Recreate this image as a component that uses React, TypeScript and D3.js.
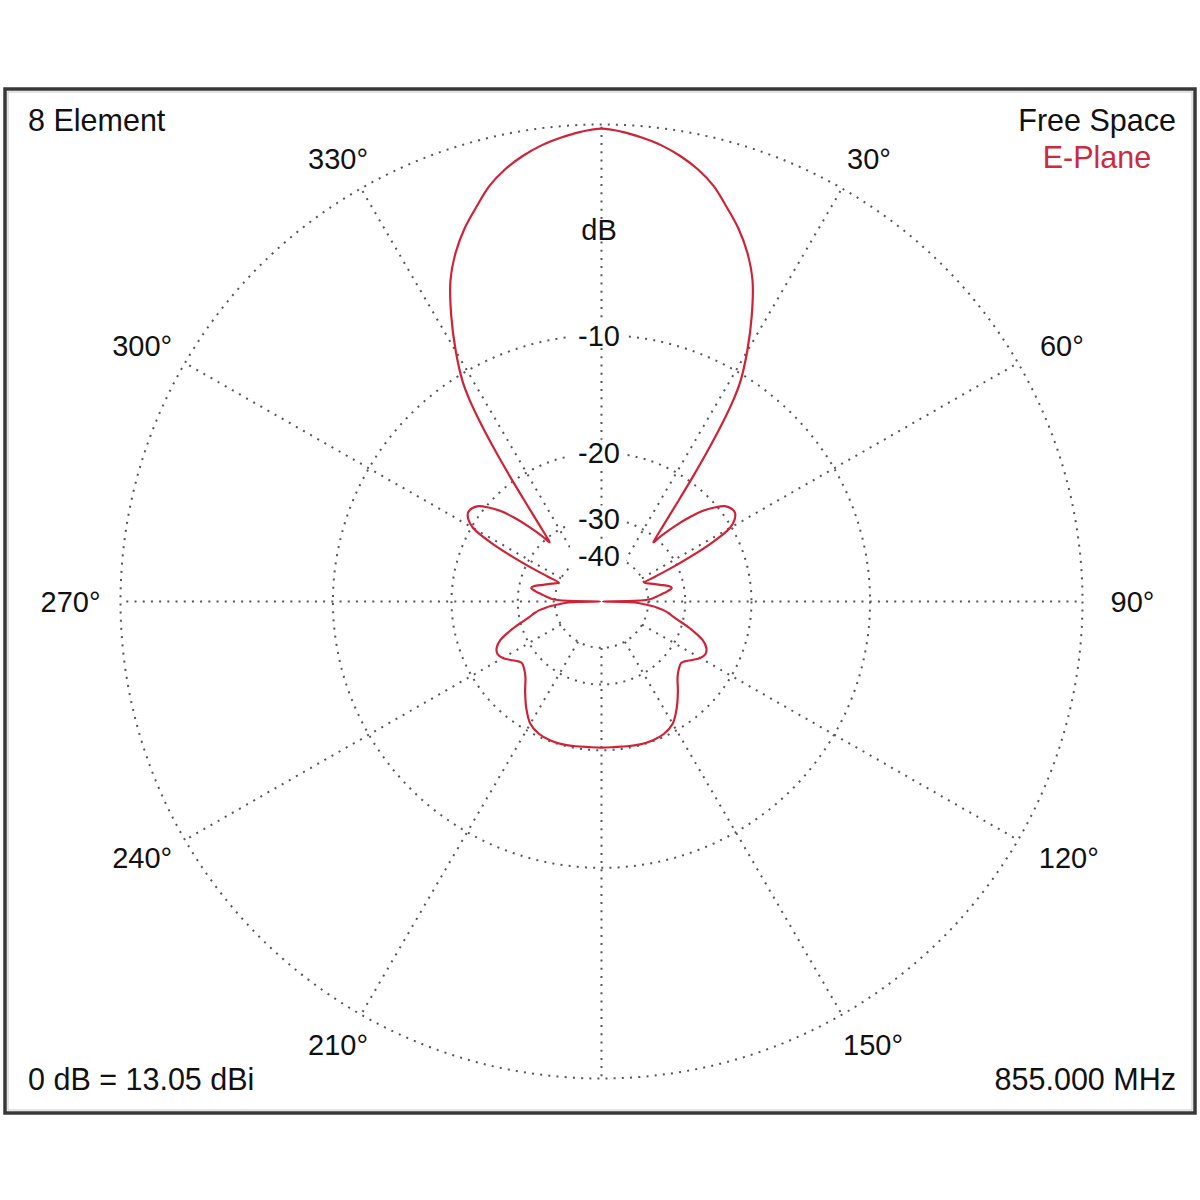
import { useEffect, useRef } from "react";
import * as d3 from "d3";

// E-plane pattern, degrees (compass, clockwise from top) and relative dB
const patternAngles = [
  0, 2.5, 5, 7.5, 10, 12.5, 15, 17.5, 20, 22.5, 25, 27.5, 30, 32, 33, 34, 35, 36, 37, 38,
  39, 40, 41, 42, 44, 46, 48, 50, 52, 54, 56, 58, 60, 62, 64, 65, 66, 70, 74, 77,
  79, 81, 83, 85, 87, 88, 89, 90, 91, 92, 94, 96, 98, 100, 102, 105, 108, 111, 114, 117,
  120, 123, 126, 128, 131, 135, 140, 145, 150, 155, 160, 165, 170, 175, 180,
  185, 190, 195, 200, 205, 210, 215, 220, 225, 229, 232, 234, 237, 240, 243, 246, 249, 252, 255, 258,
  260, 262, 264, 266, 268, 269, 270, 271, 272, 273, 275, 277, 279, 281, 283, 286, 290, 294, 295, 296,
  298, 300, 302, 304, 306, 308, 310, 312, 314, 316, 318, 319, 320, 321, 322, 323, 324, 325, 326, 327,
  328, 330, 332.5, 335, 337.5, 340, 342.5, 345, 347.5, 350, 352.5, 355, 357.5,
];
const patternDb = [
  -0.15, -0.25, -0.42, -0.63, -0.92, -1.29, -1.78, -2.46, -3.15, -4.0, -5.1, -6.7, -8.6, -10.4, -11.8, -13.9, -16.5, -19.4, -22.4, -25.1,
  -27.5, -29.5, -31, -29, -26, -23.5, -21.6, -20.3, -19.3, -18.9, -18.8, -19.2, -20.2, -23.6, -30.5, -36, -40, -38, -35.5, -33.3,
  -32.7, -33.8, -35.6, -37.2, -39, -41, -46, -99, -52, -45, -41, -37.3, -35, -33.5, -32.3, -30, -27.6, -25.6, -24.6, -24.3,
  -24.7, -25.6, -26.5, -26.8, -26.5, -25.7, -24, -22.3, -20.9, -20.3, -20.1, -20.1, -20.2, -20.3, -20.3,
  -20.3, -20.2, -20.1, -20.1, -20.3, -20.9, -22.3, -24, -25.7, -26.5, -26.8, -26.5, -25.6, -24.7, -24.3, -24.6, -25.6, -27.6, -30, -32.3,
  -33.5, -35, -37.3, -41, -45, -52, -99, -46, -41, -39, -37.2, -35.6, -33.8, -32.7, -33.3, -35.5, -38, -40, -36, -30.5,
  -23.6, -20.2, -19.2, -18.8, -18.9, -19.3, -20.3, -21.6, -23.5, -26, -29, -31, -29.5, -27.5, -25.1, -22.4, -19.4, -16.5, -13.9, -11.8,
  -10.4, -8.6, -6.7, -5.1, -4.0, -3.15, -2.46, -1.78, -1.29, -0.92, -0.63, -0.42, -0.25,
];

const ringDb = [0, -10, -20, -30, -40];
const ringLabels = ["dB", "-10", "-20", "-30", "-40"];
const spokeAngles = [0, 30, 60, 90, 120, 150, 180, 210, 240, 270, 300, 330];
const spokeLabels = ["", "30°", "60°", "90°", "120°", "150°", "", "210°", "240°", "270°", "300°", "330°"];

const FONT = "'Liberation Sans', Arial, sans-serif";

export default function App() {
  const svgRef = useRef<SVGSVGElement>(null);

  useEffect(() => {
    if (!svgRef.current) return;
    const svg = d3.select(svgRef.current);
    svg.selectAll("*").remove();

    const cx = 601.5;
    const cy = 601.5;
    const R = 481;
    const yStretch = 477 / 481;

    // ARRL log-periodic radial scale: 0.89 of radius per 2 dB
    const rNorm = d3.scaleLinear().domain([0, 1]).range([0, R]);
    const radius = (db: number) => rNorm(Math.pow(0.89, -db / 2));
    const rad = (deg: number) => (deg * Math.PI) / 180;

    svg.append("rect").attr("width", 1200).attr("height", 1200).attr("fill", "#fff");

    // frame
    svg.append("rect")
      .attr("x", 5).attr("y", 89).attr("width", 1190).attr("height", 1024)
      .attr("fill", "#fff").attr("stroke", "#383838").attr("stroke-width", 3.5);
    svg.append("rect")
      .attr("x", 8).attr("y", 92).attr("width", 1184).attr("height", 1018)
      .attr("fill", "none").attr("stroke", "#c8c8c8").attr("stroke-width", 1);

    const g = svg.append("g")
      .attr("transform", `translate(${cx},${cy}) scale(1,${yStretch})`);

    const grid = g.append("g")
      .attr("fill", "none")
      .attr("stroke", "#555")
      .attr("stroke-width", 2)
      .attr("stroke-dasharray", "2,6.2");

    grid.selectAll("circle")
      .data(ringDb)
      .enter()
      .append("circle")
      .attr("r", d => radius(d))
      .attr("vector-effect", "non-scaling-stroke");

    const rInner = radius(-40);
    grid.selectAll("line")
      .data(spokeAngles)
      .enter()
      .append("line")
      .attr("x1", d => rInner * Math.sin(rad(d)))
      .attr("y1", d => -rInner * Math.cos(rad(d)))
      .attr("x2", d => R * Math.sin(rad(d)))
      .attr("y2", d => -R * Math.cos(rad(d)))
      .attr("vector-effect", "non-scaling-stroke");

    // ring labels with white background
    const labelY = (db: number) => cy - radius(db) * yStretch;
    const ringLabelPos = ringDb.map((d, i) => ({
      text: ringLabels[i],
      y: i === 0 ? 230 : labelY(d),
    }));
    const rl = svg.append("g");
    rl.selectAll("rect")
      .data(ringLabelPos.slice(1))
      .enter()
      .append("rect")
      .attr("x", 570)
      .attr("y", d => d.y - 13)
      .attr("width", 56)
      .attr("height", 26)
      .attr("fill", "#fff");
    rl.selectAll("text")
      .data(ringLabelPos)
      .enter()
      .append("text")
      .attr("x", 599)
      .attr("y", d => d.y)
      .attr("dy", "0.36em")
      .attr("text-anchor", "middle")
      .attr("font-family", FONT)
      .attr("font-size", 29)
      .attr("fill", "#111")
      .text(d => d.text);

    // pattern
    const pts = patternAngles.map((a, i) => ({ a, db: patternDb[i] }));
    const line = d3
      .lineRadial<{ a: number; db: number }>()
      .angle(d => rad(d.a))
      .radius(d => radius(d.db))
      .curve(d3.curveCatmullRomClosed.alpha(0.5));
    g.append("path")
      .datum(pts)
      .attr("fill", "none")
      .attr("stroke", "#cf2236")
      .attr("stroke-width", 2.2)
      .attr("stroke-linejoin", "round")
      .attr("d", line);

    // angle labels: text box pushed outward from the rim
    const gap = 24;
    const halfH = 11;
    svg.append("g")
      .selectAll("text")
      .data(spokeAngles.map((a, i) => ({ a, t: spokeLabels[i] })).filter(d => d.t))
      .enter()
      .append("text")
      .attr("text-anchor", "middle")
      .attr("dy", "0.36em")
      .attr("font-family", FONT)
      .attr("font-size", 29)
      .attr("fill", "#111")
      .text(d => d.t)
      .each(function (d) {
        const el = this as SVGTextElement;
        const halfW = el.getComputedTextLength() / 2;
        const sx = Math.sin(rad(d.a));
        const sy = -Math.cos(rad(d.a));
        const px = cx + R * sx + sx * (gap + halfW) + 4;
        const py = cy + R * yStretch * sy + sy * (gap + halfH);
        d3.select(el).attr("x", px).attr("y", py);
      });

    // corner captions
    const cap = (x: number, y: number, t: string, anchor: string, color = "#111") =>
      svg.append("text")
        .attr("x", x).attr("y", y)
        .attr("text-anchor", anchor)
        .attr("font-family", FONT)
        .attr("font-size", 30.5)
        .attr("fill", color)
        .text(t);
    cap(28, 131, "8 Element", "start");
    cap(1176, 131, "Free Space", "end");
    cap(1097, 168, "E-Plane", "middle", "#cc2a40");
    cap(28, 1090, "0 dB = 13.05 dBi", "start");
    cap(1176, 1090, "855.000 MHz", "end");
  }, []);

  return (
    <svg
      ref={svgRef}
      width={1200}
      height={1200}
      style={{ position: "absolute", left: 0, top: 0, display: "block" }}
    />
  );
}
